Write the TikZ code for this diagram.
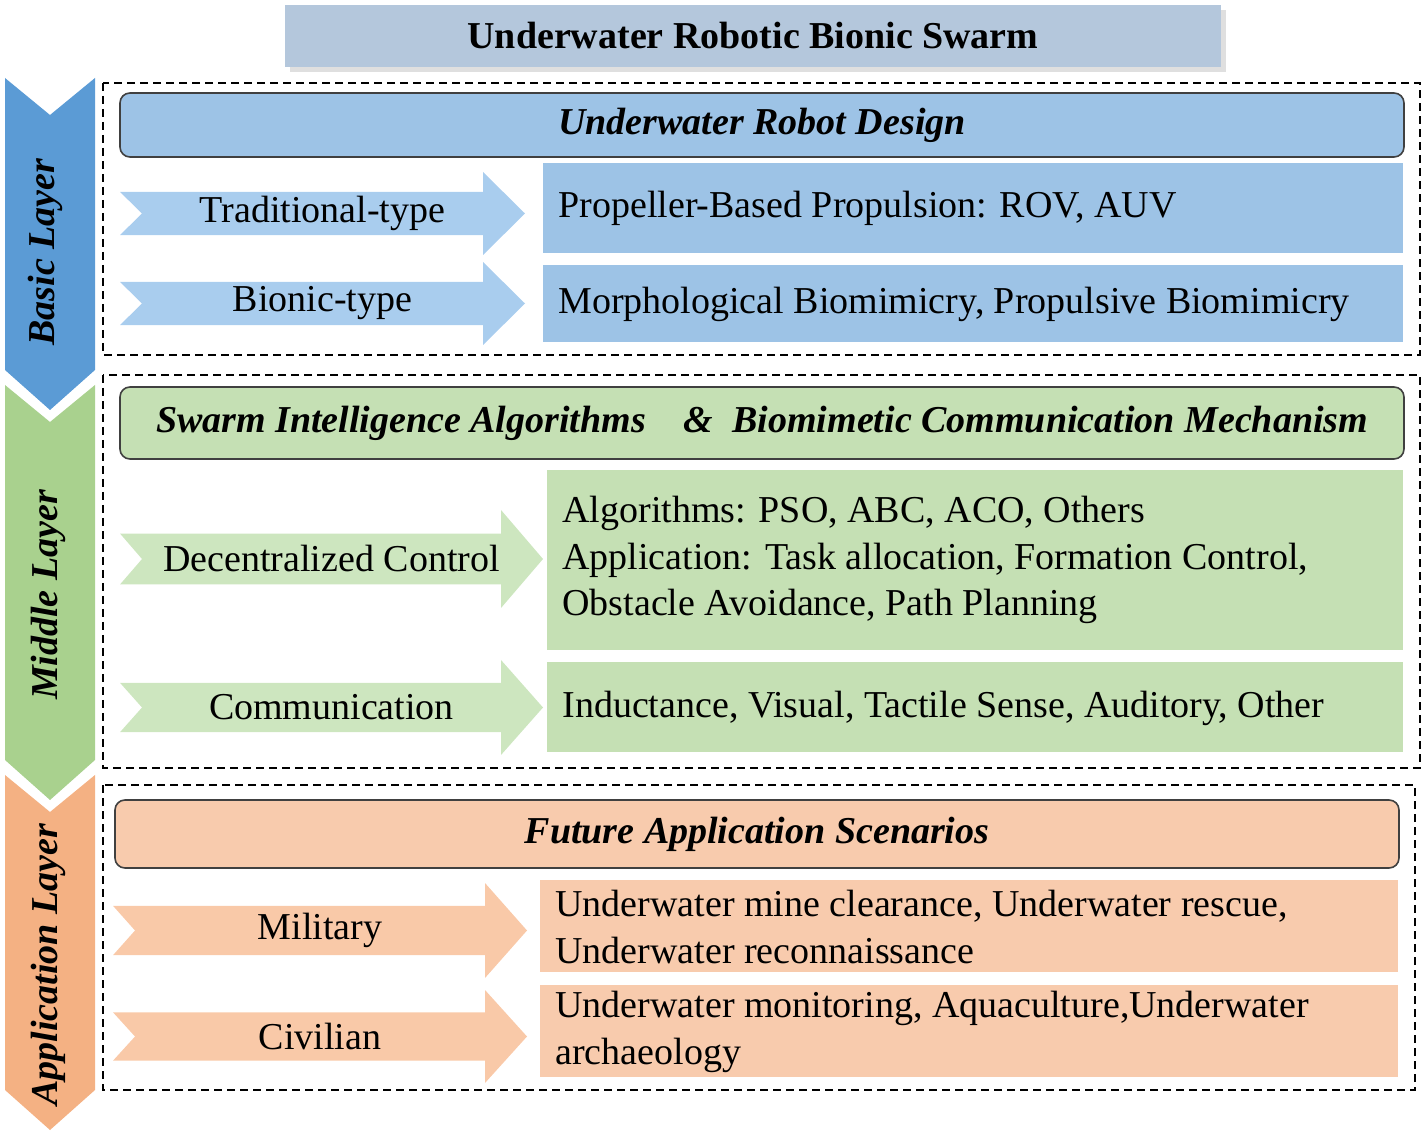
\documentclass[tikz,border=0pt]{standalone}
\usepackage{fontspec}
\setmainfont{Liberation Serif}
\usetikzlibrary{shadows}
\definecolor{bluD}{HTML}{5B9BD5}\definecolor{bluL}{HTML}{9DC3E6}\definecolor{bluA}{HTML}{A9CDEE}
\definecolor{grnD}{HTML}{A9D18E}\definecolor{grnL}{HTML}{C5E0B4}\definecolor{grnA}{HTML}{CDE6BF}
\definecolor{orD}{HTML}{F4B183}\definecolor{orL}{HTML}{F8CBAD}\definecolor{orA}{HTML}{F9C9A8}
\definecolor{ttl}{HTML}{B4C7DC}
\newcommand{\myarrow}[7]{% x0 y0 x1 y1 color name text
  \pgfmathsetmacro{\mh}{#3-42}\pgfmathsetmacro{\ym}{(#2+#4)/2}
  \pgfmathsetmacro{\bt}{#2+0.24*(#4-#2)}\pgfmathsetmacro{\bb}{#4-0.24*(#4-#2)}
  \fill[#5] (#1,\bt) -- (\mh,\bt) -- (\mh,#2) -- (#3,\ym) -- (\mh,#4) -- (\mh,\bb) -- (#1,\bb) -- (#1+22,\ym) -- cycle;
  \node[txt] (#6) at ({(#1+#3)/2},\ym) {#7};}
\begin{document}
\begin{tikzpicture}[x=0.5pt,y=-0.5pt,
  txt/.style={font=\fontsize{19}{22}\selectfont, inner sep=0pt},
  hdr/.style={draw=black!75, line width=0.8pt, rounded corners=5pt, font=\fontsize{19}{22}\selectfont\bfseries\itshape},
  dbox/.style={line width=1pt, dash pattern=on 4pt off 2.5pt},
  lay/.style={font=\fontsize{19}{22}\selectfont\bfseries\itshape, rotate=90, text=black}]
\useasboundingbox (0,0) rectangle (1425,1138);
% title
\node[fill=ttl, drop shadow={opacity=0.25}, minimum width=468pt, minimum height=31pt, font=\fontsize{19}{22}\selectfont\bfseries] (title) at (753,36) {Underwater Robotic Bionic Swarm};
% chevrons
\fill[orD] (5,775) -- (50,812) -- (95,775) -- (95,1090) -- (50,1130) -- (5,1090) -- cycle;
\fill[grnD] (5,385) -- (50,422) -- (95,385) -- (95,760) -- (50,800) -- (5,760) -- cycle;
\fill[bluD] (5,78) -- (50,115) -- (95,78) -- (95,370) -- (50,410) -- (5,370) -- cycle;
\node[lay] (L1) at (45,252) {Basic Layer};
\node[lay] (L2) at (48,595) {Middle Layer};
\node[lay] (L3) at (48,965) {Application Layer};
% dashed boxes
\draw[dbox] (103,83) rectangle (1420,355);
\draw[dbox] (103,375) rectangle (1420,768);
\draw[dbox] (103,785) rectangle (1415,1090);
% headers
\node[hdr, fill=bluL, minimum width=642pt, minimum height=32pt] (h1) at (762,125) {Underwater Robot Design};
\node[hdr, fill=grnL, minimum width=642pt, minimum height=36pt] (h2) at (762,423) {Swarm Intelligence Algorithms\quad \& \ Biomimetic Communication Mechanism};
\node[hdr, fill=orL, minimum width=642pt, minimum height=34pt] (h3) at (757,834) {Future Application Scenarios};
% basic
\myarrow{120}{172}{525}{255}{bluA}{a1}{Traditional-type}
\myarrow{120}{262}{525}{345}{bluA}{a2}{Bionic-type}
\fill[bluL] (543,163) rectangle (1403,253);
\fill[bluL] (543,265) rectangle (1403,342);
\node[txt, anchor=west] (b1) at (558,208) {Propeller-Based Propulsion: ROV, AUV};
\node[txt, anchor=west] (b2) at (558,304) {Morphological Biomimicry, Propulsive Biomimicry};
% middle
\myarrow{120}{510}{543}{608}{grnA}{a3}{Decentralized Control}
\myarrow{120}{660}{543}{755}{grnA}{a4}{Communication}
\fill[grnL] (547,470) rectangle (1403,650);
\fill[grnL] (547,662) rectangle (1403,752);
\node[txt, anchor=west, align=left, font=\fontsize{19}{23.2}\selectfont] (b3) at (562,560) {Algorithms: PSO, ABC, ACO, Others\\Application: Task allocation, Formation Control,\\Obstacle Avoidance, Path Planning};
\node[txt, anchor=west] (b4) at (562,708) {Inductance, Visual, Tactile Sense, Auditory, Other};
% application
\myarrow{113}{883}{527}{978}{orA}{a5}{Military}
\myarrow{113}{990}{527}{1083}{orA}{a6}{Civilian}
\fill[orL] (540,880) rectangle (1398,972);
\fill[orL] (540,985) rectangle (1398,1077);
\node[txt, anchor=west, align=left, font=\fontsize{19}{23.2}\selectfont] (b5) at (555,927) {Underwater mine clearance, Underwater rescue,\\Underwater reconnaissance};
\node[txt, anchor=west, align=left, font=\fontsize{19}{23.2}\selectfont] (b6) at (555,1032) {Underwater monitoring, Aquaculture,Underwater\\archaeology};
\end{tikzpicture}
\end{document}
